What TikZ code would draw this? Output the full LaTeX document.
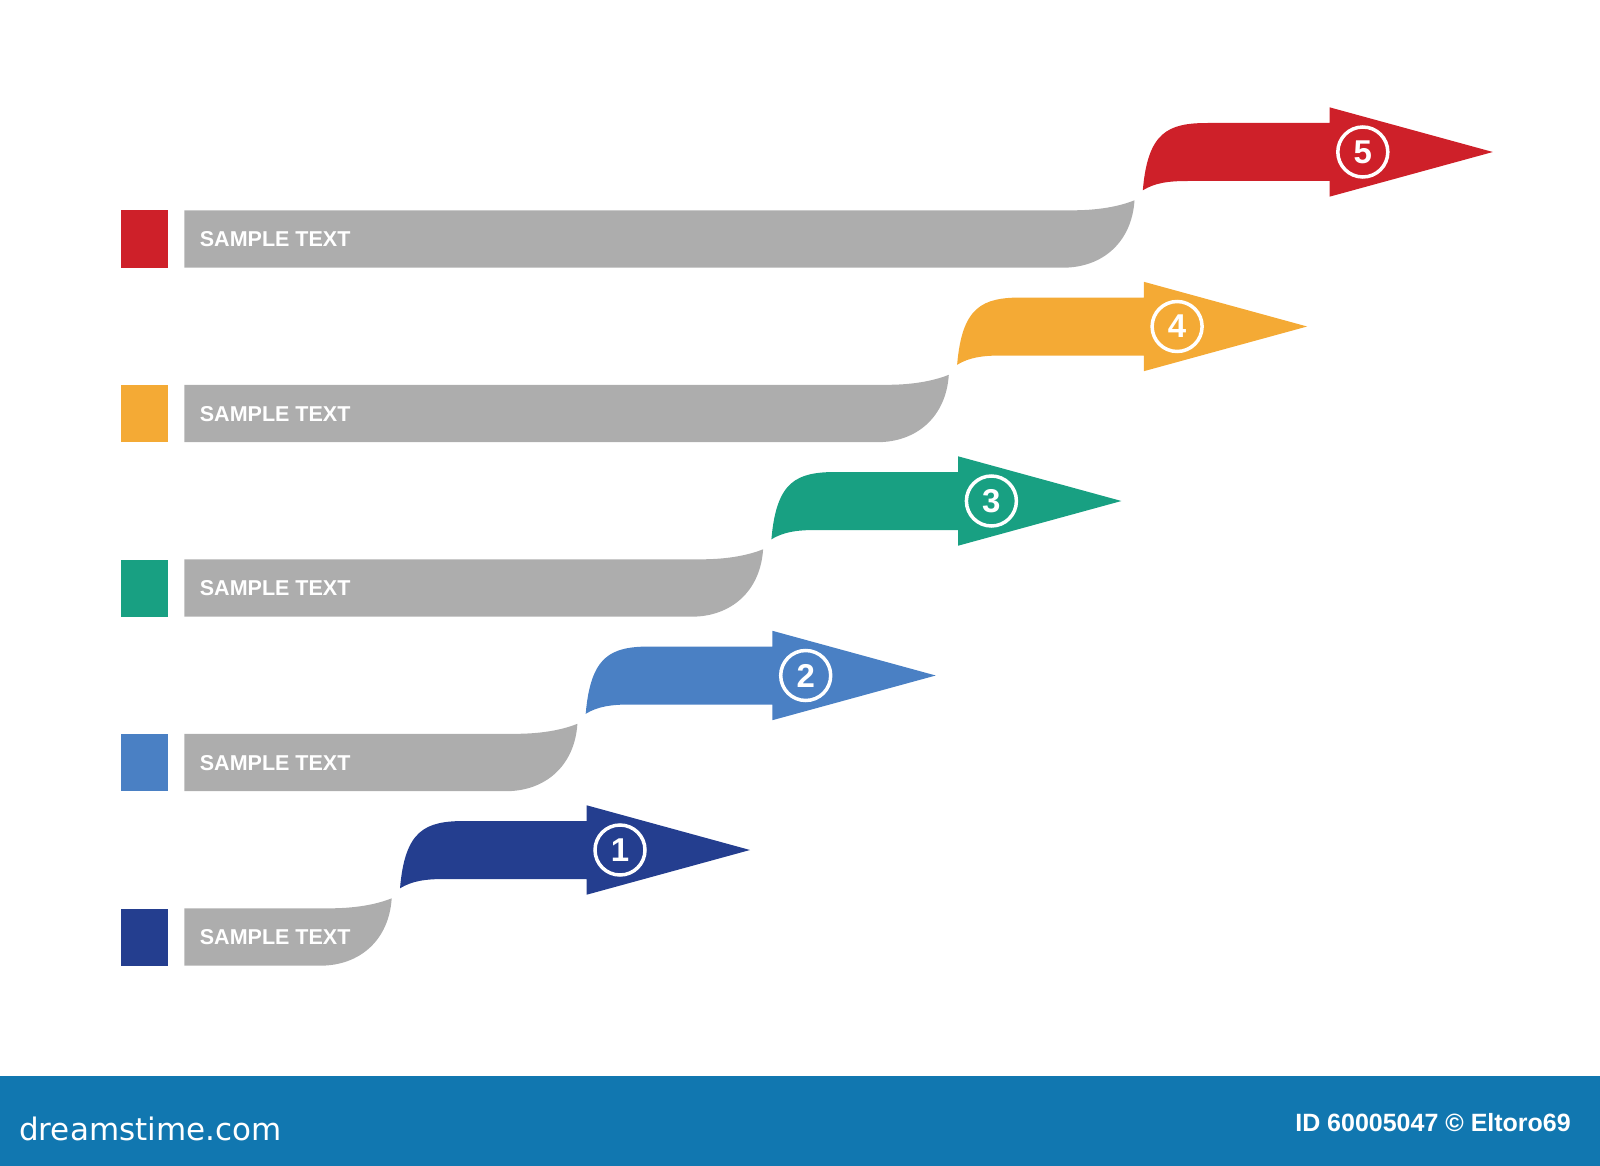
\documentclass[tikz,border=0pt]{standalone}
\usepackage{fontspec}
\setmainfont{Liberation Sans}
\newfontfamily\logofont{DejaVu Sans}
\usetikzlibrary{positioning}
\definecolor{rowred}{RGB}{206,32,41}
\definecolor{roworange}{RGB}{244,170,53}
\definecolor{rowgreen}{RGB}{24,160,130}
\definecolor{rowblue}{RGB}{74,128,196}
\definecolor{rownavy}{RGB}{36,62,143}
\definecolor{bargray}{RGB}{173,173,173}
\definecolor{bannerblue}{RGB}{17,119,176}

\begin{document}
\begin{tikzpicture}[x=1pt,y=-1pt]
\tikzset{
    keysq/.style = {rectangle, fill=#1, minimum width=46.3pt, minimum height=57.4pt, inner sep=0pt, anchor=north west},
    sampletxt/.style = {anchor=west, inner sep=0pt, text=white, font=\bfseries\fontsize{21.5}{24}\selectfont},
    numring/.style = {circle, draw=white, line width=3.5pt, minimum size=50pt, inner sep=0pt, text=white, font=\bfseries\fontsize{33}{33}\selectfont}
}
\useasboundingbox (0,0) rectangle (1600,1166);
% five rows, bottom one first
\foreach \i/\col/\num in {0/rownavy/1, 1/rowblue/2, 2/rowgreen/3, 3/roworange/4, 4/rowred/5} {
  \node[keysq=\col] (sq\num) at (121,{908.3-174.5*\i}) {};
  \begin{scope}[shift={({185.7*\i},{-174.5*\i})}]
    % gray bar bending up
    \fill[bargray] ({184.3-185.7*\i},908.3) -- (330,908.3)
      .. controls (360,908.3) and (380,903) .. (391.7,898.3)
      .. controls (389,940) and (360,965.7) .. (320,965.7)
      -- ({184.3-185.7*\i},965.7) -- cycle;
    % coloured arrow
    \fill[\col] (400,888.3) .. controls (412,881) and (425,879) .. (445,879)
      -- (586.7,879) -- (586.7,894.7) -- (750,850) -- (586.7,805.3) -- (586.7,821)
      -- (465,821) .. controls (425,821) and (405,830) .. (400,888.3) -- cycle;
    \node[numring] (num\num) at (620,850) {\num};
  \end{scope}
  \node[sampletxt, right=32pt of sq\num] (txt\num) {SAMPLE TEXT};
}
% banner
\fill[bannerblue] (0,1076) rectangle (1600,1166);
\node[anchor=west, inner sep=0pt, text=white, font=\logofont\fontsize{31}{31}\selectfont] (logo) at (19,1129) {dreamstime.com};
\node[anchor=east, inner sep=0pt, text=white, font=\bfseries\fontsize{25}{25}\selectfont] (credit) at (1571,1123) {ID 60005047 © Eltoro69};
\end{tikzpicture}
\end{document}
